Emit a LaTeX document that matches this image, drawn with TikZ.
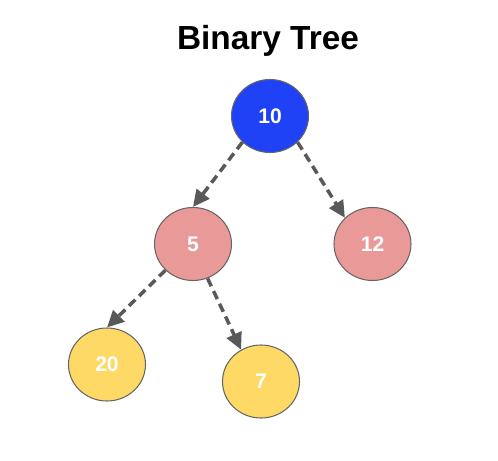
\documentclass[tikz,border=0pt]{standalone}
\usepackage{fontspec}
\setmainfont{Liberation Sans}
\usepackage{tikz}
\usetikzlibrary{shapes.geometric}
\usetikzlibrary{arrows.meta}
\definecolor{royalblue}{RGB}{31, 66, 246}
\definecolor{salmonpink}{RGB}{234, 153, 153}
\definecolor{sunflower}{RGB}{255, 217, 102}
\definecolor{nodegray}{RGB}{102, 102, 102}
\definecolor{edgegray}{RGB}{89, 89, 89}

\begin{document}
\begin{tikzpicture}[
        treenode/.style  = {ellipse, draw=nodegray, line width=0.6pt, minimum width=1.54cm, minimum height=1.46cm,
                            inner sep=0pt, text=white, font=\fontsize{12}{14}\selectfont\bfseries},
        childedge/.style = {draw=edgegray, line width=2pt, dash pattern=on 5pt off 3pt,
                            -{Triangle[length=9.5pt,width=9pt]}}]
            \useasboundingbox (0.00, 0.00) rectangle (9.96, 9.20);
            \node[font=\fontsize{19}{23}\selectfont\bfseries, anchor=base] (title) at (5.36, 8.21) {Binary Tree};
            \node[treenode, fill=royalblue]  (n10) at (5.40, 6.88) {10};
            \node[treenode, fill=salmonpink] (n5)  at (3.86, 4.32) {5};
            \node[treenode, fill=salmonpink] (n12) at (7.45, 4.32) {12};
            \node[treenode, fill=sunflower]  (n20) at (2.14, 1.91) {20};
            \node[treenode, fill=sunflower]  (n7)  at (5.22, 1.57) {7};
            \draw[childedge] (n10.south west) -- (n5.north);
            \draw[childedge] (n10.south east) -- (n12.north west);
            \draw[childedge] (n5.south west)  -- (n20.north);
            \draw[childedge] (n5.-67)         -- (n7.122);
        \end{tikzpicture}
\end{document}
